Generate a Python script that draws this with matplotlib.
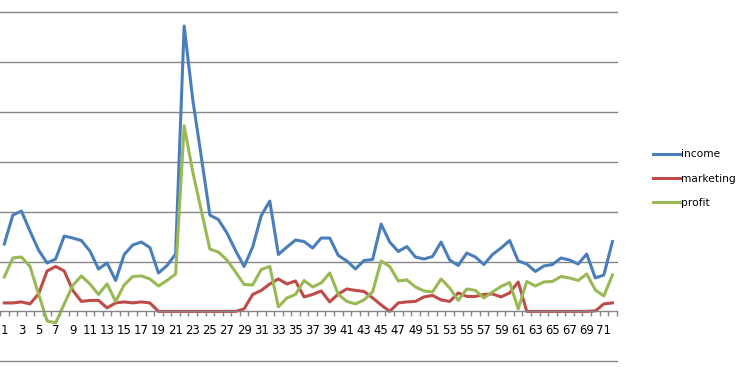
import matplotlib
matplotlib.use("Agg")
import matplotlib.pyplot as plt
import numpy as np

categories = list(range(1, 73))

income = [135, 193, 201, 161, 123, 97, 105, 151, 147, 142,
          121, 85, 97, 62, 114, 133, 139, 128, 77, 92,
          115, 572, 425, 310, 193, 184, 157, 122, 90, 129,
          192, 221, 114, 129, 143, 140, 127, 147, 147, 112,
          101, 85, 102, 104, 175, 139, 120, 130, 109, 105,
          110, 139, 103, 92, 117, 109, 94, 114, 127, 142,
          101, 95, 80, 91, 94, 107, 103, 95, 115, 67,
          73, 140]

marketing = [17, 17, 19, 15, 35, 81, 90, 81, 42, 20,
             22, 22, 7, 17, 19, 17, 19, 17, 0, 0,
             0, 0, 0, 0, 0, 0, 0, 0, 5, 34,
             42, 55, 65, 55, 61, 29, 34, 41, 19, 35,
             45, 42, 40, 27, 13, 0, 17, 19, 20, 29,
             32, 23, 20, 37, 30, 30, 34, 35, 29, 37,
             59, 0, 0, 0, 0, 0, 0, 0, 0, 1,
             15, 17]

profit = [69, 107, 109, 90, 35, -19, -23, 15, 52, 71,
          55, 34, 55, 20, 53, 70, 71, 65, 51, 62,
          75, 372, 280, 202, 125, 119, 103, 79, 54, 53,
          84, 90, 9, 27, 34, 62, 49, 57, 77, 34,
          20, 15, 23, 39, 101, 90, 61, 63, 49, 41,
          39, 65, 47, 22, 45, 42, 27, 39, 50, 58,
          5, 60, 51, 59, 60, 70, 67, 62, 75, 43,
          31, 73]

series_names = ["income", "marketing", "profit"]
colors = ["#4A7EBB", "#BE4B48", "#98B954"]
tick_labels = [str(c) for c in categories if c % 2 == 1]

W, H = 747, 368
fig = plt.figure(figsize=(W / 100, H / 100), dpi=100)
ax = fig.add_axes([0, (H - 361.3) / H, 616.7 / W, (361.3 - 12) / H])

x = np.array(categories)
for vals, name, col in zip([income, marketing, profit], series_names, colors):
    ax.plot(x, vals, color=col, lw=2.2, label=name, solid_joinstyle="round")

ax.set_xlim(0.5, 72.5)
ax.set_ylim(-100, 600)
ax.set_yticks([-100, 100, 200, 300, 400, 500, 600])
ax.yaxis.grid(True, color="#868686", lw=1.0)
for gl in ax.get_ygridlines():
    gl.set_clip_on(False)
ax.set_axisbelow(True)
ax.tick_params(axis="y", left=False, labelleft=False)

for s in ["top", "right", "left"]:
    ax.spines[s].set_visible(False)
ax.spines["bottom"].set_position(("data", 0))
ax.spines["bottom"].set_color("#868686")
ax.spines["bottom"].set_linewidth(1.0)

ax.set_xticks([c for c in categories if c % 2 == 1])
ax.set_xticklabels(tick_labels, fontsize=8.4)
ax.set_xticks(np.arange(0.5, 73, 1), minor=True)
ax.tick_params(axis="x", which="major", length=0, pad=9, colors="black")
ax.tick_params(axis="x", which="minor", length=3.5, width=1.0, color="#868686", direction="out")

fig.legend(loc="center left", bbox_to_anchor=(653 / W, 1 - 178.7 / H),
           frameon=False, fontsize=7.7, handlelength=2.5, handletextpad=0.15,
           labelspacing=1.35, borderpad=0, borderaxespad=0)

fig.savefig("out.png", dpi=100)
